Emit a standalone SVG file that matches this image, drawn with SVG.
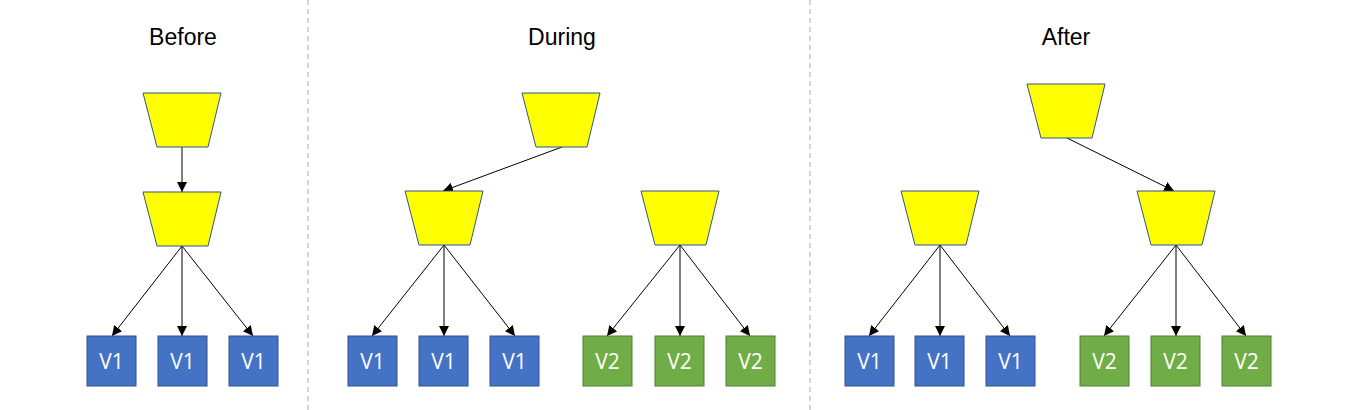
<svg xmlns="http://www.w3.org/2000/svg" width="1358" height="410" viewBox="0 0 1358 410">
<defs>
<style>
.t{font-family:"Liberation Sans",Arial,sans-serif;font-size:23px;fill:#000;text-anchor:middle}
.tz{fill:#ffff00;stroke:#2f528f;stroke-width:1}
.b{fill:#4472c4;stroke:#2f528f;stroke-width:1}
.g{fill:#70ad47;stroke:#507e32;stroke-width:1}
.l{font-family:"Open Sans","Liberation Sans",sans-serif;font-size:21px;fill:#fff;text-anchor:middle}
.c{stroke:#000;stroke-width:1;fill:none;marker-end:url(#a)}
.d{stroke:#aaa;stroke-width:1;stroke-dasharray:5,4}
</style>
<marker id="a" viewBox="0 0 10 10" refX="10" refY="5" markerWidth="10" markerHeight="10" markerUnits="userSpaceOnUse" orient="auto"><path d="M0,0L10,5L0,10z" fill="#000"/></marker>
</defs>
<rect width="1358" height="410" fill="#fff"/>
<line class="d" x1="308" y1="0" x2="308" y2="410"/>
<line class="d" x1="810" y1="0" x2="810" y2="410"/>
<text class="t" x="183" y="45">Before</text>
<text class="t" x="562" y="45">During</text>
<text class="t" x="1066" y="45">After</text>
<g id="connectors">
<line class="c" x1="182" y1="147" x2="182" y2="192"/>
<line class="c" x1="182" y1="246" x2="112" y2="336"/>
<line class="c" x1="182" y1="246" x2="182" y2="336"/>
<line class="c" x1="182" y1="246" x2="253" y2="336"/>
<line class="c" x1="562" y1="147" x2="443" y2="191"/>
<line class="c" x1="444" y1="245" x2="372" y2="336"/>
<line class="c" x1="444" y1="245" x2="444" y2="336"/>
<line class="c" x1="444" y1="245" x2="515" y2="336"/>
<line class="c" x1="680" y1="245" x2="607" y2="336"/>
<line class="c" x1="680" y1="245" x2="680" y2="336"/>
<line class="c" x1="680" y1="245" x2="750" y2="336"/>
<line class="c" x1="1067" y1="138" x2="1174" y2="191"/>
<line class="c" x1="940" y1="245" x2="869" y2="336"/>
<line class="c" x1="940" y1="245" x2="940" y2="336"/>
<line class="c" x1="940" y1="245" x2="1010" y2="336"/>
<line class="c" x1="1176" y1="245" x2="1104" y2="336"/>
<line class="c" x1="1176" y1="245" x2="1176" y2="336"/>
<line class="c" x1="1176" y1="245" x2="1246" y2="336"/>
</g>
<g id="b-top"><polygon class="tz" points="143,93 221,93 208,147 157,147"/></g>
<g id="b-mid"><polygon class="tz" points="143,192 221,192 208,246 157,246"/></g>
<g id="d-top"><polygon class="tz" points="522,93 600,93 587,147 536,147"/></g>
<g id="d-v1"><polygon class="tz" points="405,191 483,191 470,245 419,245"/></g>
<g id="d-v2"><polygon class="tz" points="641,191 719,191 706,245 655,245"/></g>
<g id="a-top"><polygon class="tz" points="1027,84 1105,84 1092,138 1041,138"/></g>
<g id="a-v1"><polygon class="tz" points="901,191 979,191 966,245 915,245"/></g>
<g id="a-v2"><polygon class="tz" points="1137,191 1215,191 1202,245 1151,245"/></g>
<g id="b1"><rect class="b" x="87" y="336" width="49" height="50"/><text class="l" x="111.5" y="369">V1</text></g>
<g id="b2"><rect class="b" x="158" y="336" width="49" height="50"/><text class="l" x="182.5" y="369">V1</text></g>
<g id="b3"><rect class="b" x="229" y="336" width="49" height="50"/><text class="l" x="253.5" y="369">V1</text></g>
<g id="d1"><rect class="b" x="348" y="336" width="49" height="50"/><text class="l" x="372.5" y="369">V1</text></g>
<g id="d2"><rect class="b" x="419" y="336" width="49" height="50"/><text class="l" x="443.5" y="369">V1</text></g>
<g id="d3"><rect class="b" x="490" y="336" width="49" height="50"/><text class="l" x="514.5" y="369">V1</text></g>
<g id="d4"><rect class="g" x="583" y="336" width="49" height="50"/><text class="l" x="607.5" y="369">V2</text></g>
<g id="d5"><rect class="g" x="655" y="336" width="49" height="50"/><text class="l" x="679.5" y="369">V2</text></g>
<g id="d6"><rect class="g" x="726" y="336" width="49" height="50"/><text class="l" x="750.5" y="369">V2</text></g>
<g id="a1"><rect class="b" x="845" y="336" width="49" height="50"/><text class="l" x="869.5" y="369">V1</text></g>
<g id="a2"><rect class="b" x="915" y="336" width="49" height="50"/><text class="l" x="939.5" y="369">V1</text></g>
<g id="a3"><rect class="b" x="986" y="336" width="49" height="50"/><text class="l" x="1010.5" y="369">V1</text></g>
<g id="a4"><rect class="g" x="1080" y="336" width="49" height="50"/><text class="l" x="1104.5" y="369">V2</text></g>
<g id="a5"><rect class="g" x="1151" y="336" width="49" height="50"/><text class="l" x="1175.5" y="369">V2</text></g>
<g id="a6"><rect class="g" x="1222" y="336" width="49" height="50"/><text class="l" x="1246.5" y="369">V2</text></g>
</svg>
